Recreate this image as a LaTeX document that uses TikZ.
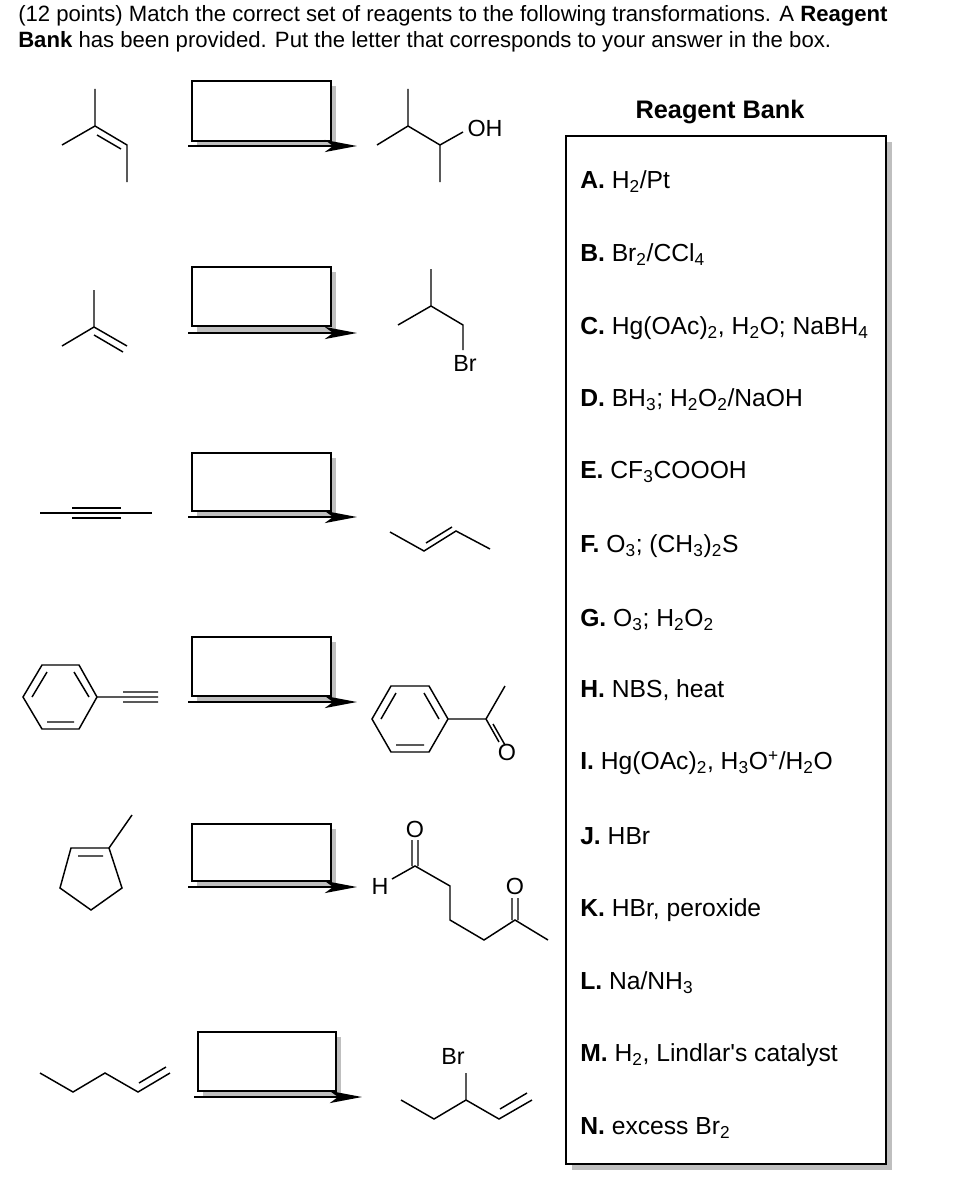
\documentclass[tikz,border=0pt]{standalone}
\usepackage{fontspec}
\setmainfont{Liberation Sans}
\usetikzlibrary{arrows.meta}
\newcommand\sbs[1]{\textsubscript{#1}}
\newcommand\sps[1]{\textsuperscript{#1}}
\begin{document}
\begin{tikzpicture}[x=0.75pt,y=-0.75pt,
  bond/.style={line width=1.1pt},
  rbox/.style={draw=black,line width=1.2pt,fill=white},
  shad/.style={fill=black!25,draw=none},
  rarr/.style={line width=2.2pt,-{Stealth[length=24pt,width=9pt,inset=6pt]}},
  lab/.style={font=\fontsize{17.5}{19}\selectfont,inner sep=0pt},
  bank/.style={font=\fontsize{18.5}{20}\selectfont,anchor=west,inner sep=0pt}]
\useasboundingbox (0,0) rectangle (974,1184);
\node[anchor=north west,align=left,font=\fontsize{16.6}{19.5}\selectfont,inner sep=0pt] (hdr) at (18,5)
 {(12 points) Match the correct set of reagents to the following transformations. A \textbf{Reagent}\\
 \textbf{Bank} has been provided. Put the letter that corresponds to your answer in the box.};
% boxes and arrows
\foreach \n/\xa/\ya/\xb/\yb/\ay in {1/191/80/330/140/146, 2/191/266/330/325/333, 3/191/452/330/510/517, 4/191/636/330/695/702, 5/191/823/330/880/887, 6/197/1031/335/1090/1097}{
  \fill[shad] (\xa+6,\ya+6) rectangle (\xb+6,\ay-1);
  \node[rbox,minimum width={(\xb-\xa)*0.75pt},minimum height={(\yb-\ya)*0.75pt},anchor=north west,inner sep=0pt] (box\n) at (\xa,\ya) {};
  \coordinate (as\n) at (\xa-3,\ay);
  \coordinate (ae\n) at (\xb+27,\ay);
  \draw[rarr] (as\n) -- (ae\n);
}
% row 1
\draw[bond] (95,89)--(95,126)--(62,145) (95,126)--(127,145)--(127,182) (97,135)--(121,149);
\draw[bond] (408,89)--(408,126)--(377,145) (408,126)--(440,145)--(440,182) (440,145)--(463,132);
\node[lab] (oh) at (485,128) {OH};
% row 2
\draw[bond] (94,290)--(94,327)--(62,346) (94,327)--(127,346) (94,335)--(123,352);
\draw[bond] (431,269)--(431,306)--(398,325) (431,306)--(463,325)--(463,350);
\node[lab] (br1) at (465,363) {Br};
% row 3
\draw[bond] (40,513)--(152,513) (72,508)--(121,508) (72,518)--(121,518);
\draw[bond] (390,532)--(424,551)--(456,531)--(490,549) (426,543)--(452,527);
% row 4
\draw[bond] (23,697)--(42,665)--(79,665)--(97,697)--(79,729)--(42,729)--cycle
  (32,697)--(47,672) (74,672)--(89,697) (47,722)--(74,722)
  (97,697)--(158,697) (123,692)--(158,692) (123,702)--(158,702);
\draw[bond] (372,719)--(391,686)--(429,686)--(448,719)--(429,752)--(391,752)--cycle
  (381,719)--(396,693) (424,693)--(439,719) (396,745)--(424,745)
  (448,719)--(486,719)--(505,686) (486,719)--(499,742) (493,724)--(505,745);
\node[lab] (o1) at (507,752) {O};
% row 5
\draw[bond] (71,848)--(109,848)--(122,888)--(91,910)--(60,888)--cycle (109,848)--(132,815) (78,856)--(103,856);
\draw[bond] (392,879)--(415,866)--(450,886)--(450,920)--(484,940)--(515,920)--(548,940)
  (412,866)--(412,840) (418,866)--(418,840) (512,920)--(512,898) (518,920)--(518,898);
\node[lab] (h1) at (380,886) {H};
\node[lab] (o2) at (415,829) {O};
\node[lab] (o3) at (515,886) {O};
% row 6
\draw[bond] (40,1073)--(73,1092)--(105,1073)--(138,1092)--(170,1073) (139,1083)--(166,1067);
\draw[bond] (401,1100)--(434,1119)--(466,1100)--(499,1119)--(532,1100) (500,1109)--(527,1093) (466,1100)--(466,1073);
\node[lab] (br2) at (453,1056) {Br};
% reagent bank
\node[font=\fontsize{19}{20}\selectfont\bfseries,inner sep=0pt] (rbt) at (720,112) {Reagent Bank};
\fill[shad] (572,142) rectangle (892,1170);
\draw[rbox,line width=1pt] (566,136) rectangle (886,1164);
\foreach \y/\t in {182/{\textbf{A.} H\sbs{2}/Pt}, 255/{\textbf{B.} Br\sbs{2}/CCl\sbs{4}}, 328/{\textbf{C.} Hg(OAc)\sbs{2}, H\sbs{2}O; NaBH\sbs{4}}, 400/{\textbf{D.} BH\sbs{3}; H\sbs{2}O\sbs{2}/NaOH}, 472/{\textbf{E.} CF\sbs{3}COOOH}, 546/{\textbf{F.} O\sbs{3}; (CH\sbs{3})\sbs{2}S}, 620/{\textbf{G.} O\sbs{3}; H\sbs{2}O\sbs{2}}, 690/{\textbf{H.} NBS, heat}, 763/{\textbf{I.} Hg(OAc)\sbs{2}, H\sbs{3}O\sps{+}/H\sbs{2}O}, 836/{\textbf{J.} HBr}, 910/{\textbf{K.} HBr, peroxide}, 983/{\textbf{L.} Na/NH\sbs{3}}, 1055/{\textbf{M.} H\sbs{2}, Lindlar\textquotesingle s catalyst}, 1128/{\textbf{N.} excess Br\sbs{2}}}{
  \node[bank] at (580,\y) {\t};
}
\end{tikzpicture}
\end{document}
